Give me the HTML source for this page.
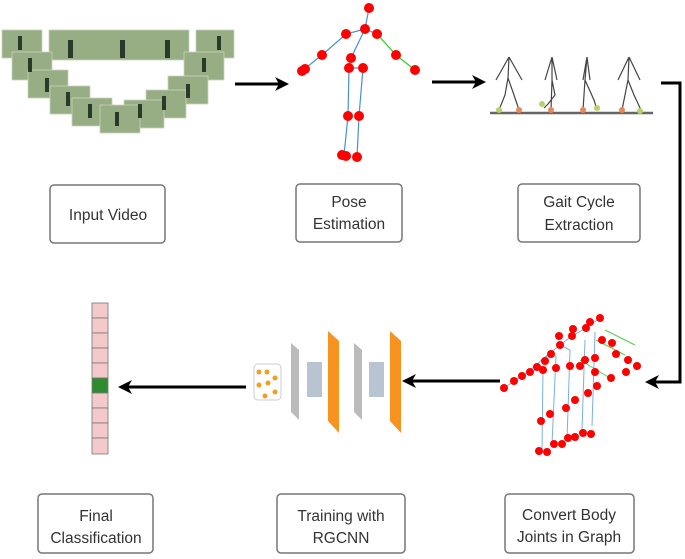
<!DOCTYPE html>
<html><head><meta charset="utf-8"><style>
html,body{margin:0;padding:0;background:#fff;}
svg{display:block;}
text{font-family:"Liberation Sans",Arial,sans-serif;font-size:15.5px;fill:#333;text-anchor:middle;}
</style></head><body>
<svg width="685" height="559" viewBox="0 0 685 559" xmlns="http://www.w3.org/2000/svg">
<defs>
<marker id="ah" markerWidth="14" markerHeight="14" refX="11" refY="7" orient="auto" markerUnits="userSpaceOnUse">
<path d="M0,0 L14,7 L0,14 L4,7 Z" fill="#000"/>
</marker>
</defs>
<g fill="#97ad84" stroke="#c9d3bd" stroke-width="0.8">
<rect x="2" y="30" width="40" height="28"/>
<rect x="49" y="30" width="140" height="30"/>
<rect x="196" y="30" width="38" height="28"/>
<rect x="12" y="52" width="40" height="28"/>
<rect x="184" y="52" width="40" height="28"/>
<rect x="28" y="70" width="40" height="28"/>
<rect x="168" y="76" width="40" height="28"/>
<rect x="50" y="86" width="40" height="28"/>
<rect x="146" y="90" width="40" height="28"/>
<rect x="72" y="98" width="40" height="28"/>
<rect x="124" y="100" width="40" height="28"/>
<rect x="100" y="105" width="40" height="28"/>
</g>
<g fill="#2a3a2a">
<rect x="18" y="36" width="4" height="14"/><rect x="68" y="40" width="5" height="18"/><rect x="120" y="40" width="5" height="18"/><rect x="165" y="40" width="5" height="18"/><rect x="217" y="36" width="4" height="14"/>
<rect x="28" y="58" width="4" height="14"/><rect x="202" y="58" width="4" height="14"/><rect x="45" y="78" width="4" height="14"/><rect x="186" y="84" width="4" height="14"/><rect x="66" y="92" width="4" height="14"/><rect x="162" y="96" width="4" height="14"/><rect x="88" y="104" width="4" height="14"/><rect x="138" y="104" width="4" height="14"/><rect x="115" y="112" width="4" height="14"/>
</g>
<line x1="235" y1="84" x2="286" y2="84" stroke="#000" stroke-width="3" marker-end="url(#ah)"/>
<line x1="432" y1="82" x2="483" y2="82" stroke="#000" stroke-width="3" marker-end="url(#ah)"/>
<polyline points="661,83 680,83 680,382 648,382" fill="none" stroke="#000" stroke-width="3" marker-end="url(#ah)"/>
<line x1="500" y1="381" x2="405" y2="381" stroke="#000" stroke-width="3" marker-end="url(#ah)"/>
<line x1="246" y1="387" x2="121" y2="387" stroke="#000" stroke-width="3" marker-end="url(#ah)"/>
<g stroke="#4a90d0" stroke-width="1.2" fill="none">
<path d="M369,8 L365,29 L346,34 L322,55 L302,71"/>
<path d="M365,29 L377,34"/>
<path d="M365,29 L351,58 L349,68 L348,116 L344,155"/>
<path d="M351,68 L363,68 L359,116 L357,157"/>
</g>
<path d="M377,34 L396,55 L415,70" stroke="#3c3" stroke-width="1.2" fill="none"/>
<g fill="#f00">
<circle cx="369" cy="8" r="5"/><circle cx="365" cy="29" r="5"/><circle cx="346" cy="34" r="5"/><circle cx="377" cy="34" r="5"/><circle cx="322" cy="55" r="5"/><circle cx="396" cy="55" r="5"/><circle cx="302" cy="71" r="5"/><circle cx="305" cy="69" r="5"/><circle cx="415" cy="70" r="5"/><circle cx="351" cy="58" r="5"/><circle cx="349" cy="68" r="5"/><circle cx="363" cy="68" r="5"/><circle cx="348" cy="116" r="5"/><circle cx="359" cy="116" r="5"/><circle cx="342" cy="155" r="5"/><circle cx="346" cy="156" r="5"/><circle cx="357" cy="157" r="5"/>
</g>
<line x1="490" y1="113" x2="653" y2="113" stroke="#666" stroke-width="2.5"/>
<g stroke="#444" stroke-width="1.2" fill="none">
<path d="M509,57 L496,80 M509,57 L522,80 M509,57 L508,78 L505,95 L499,110 M508,78 L514,95 L519,110"/>
<path d="M552,57 L545,80 M552,57 L557,80 M552,57 L552,80 L555,95 L548,104 L544,108 M552,80 L551,110"/>
<path d="M587,57 L583,80 M587,57 L590,80 M587,57 L585,80 L583,110 M585,80 L594,100 L597,110"/>
<path d="M629,57 L618,80 M629,57 L640,80 M629,57 L628,80 L622,110 M628,80 L634,95 L641,110"/>
</g>
<g fill="#e8875a"><circle cx="519" cy="110" r="3"/><circle cx="551" cy="110" r="3"/><circle cx="583" cy="110" r="3"/><circle cx="622" cy="110" r="3"/></g>
<g fill="#b5d36a"><circle cx="499" cy="110" r="3"/><circle cx="542" cy="104" r="3"/><circle cx="597" cy="108" r="3"/><circle cx="640" cy="111" r="3"/></g>
<g fill="#fff" stroke="#777" stroke-width="1.5">
<rect x="50" y="185" width="115" height="58" rx="4"/>
<rect x="296" y="184" width="106" height="58" rx="4"/>
<rect x="518" y="184" width="122" height="58" rx="4"/>
<rect x="38" y="494" width="115" height="59" rx="4"/>
<rect x="277" y="494" width="128" height="59" rx="4"/>
<rect x="505" y="494" width="129" height="59" rx="4"/>
</g>
<text x="108" y="220">Input Video</text>
<text x="349" y="207">Pose</text><text x="349" y="229">Estimation</text>
<text x="579" y="207">Gait Cycle</text><text x="579" y="230">Extraction</text>
<text x="96" y="521">Final</text><text x="96" y="543">Classification</text>
<text x="341" y="521">Training with</text><text x="341" y="543">RGCNN</text>
<text x="569" y="520">Convert Body</text><text x="569" y="542">Joints in Graph</text>
<g fill="#f4c9c9" stroke="#777" stroke-width="0.8">
<rect x="92" y="303" width="16" height="15"/><rect x="92" y="318" width="16" height="15"/><rect x="92" y="333" width="16" height="15"/><rect x="92" y="348" width="16" height="15"/><rect x="92" y="363" width="16" height="15"/>
<rect x="92" y="378" width="16" height="15" fill="#2e8b2e"/>
<rect x="92" y="393" width="16" height="15"/><rect x="92" y="408" width="16" height="15"/><rect x="92" y="423" width="16" height="15"/><rect x="92" y="438" width="16" height="16"/>
</g>
<rect x="254" y="364" width="27" height="36" rx="4" fill="#fff" stroke="#ccc"/>
<g fill="#f0a020"><circle cx="259" cy="372" r="2.5"/><circle cx="267" cy="372" r="2.5"/><circle cx="275" cy="378" r="2.5"/><circle cx="259" cy="385" r="2.5"/><circle cx="268" cy="383" r="2.5"/><circle cx="275" cy="392" r="2.5"/><circle cx="265" cy="396" r="2.5"/></g>
<polygon points="291,343 299,350 299,420 291,412" fill="#bbb"/>
<rect x="307" y="362" width="15" height="35" fill="#b8c4d2"/>
<polygon points="328,331 339,341 339,433 328,421" fill="#f7931e"/>
<polygon points="354,343 362,350 362,420 354,412" fill="#bbb"/>
<rect x="369" y="362" width="15" height="35" fill="#b8c4d2"/>
<polygon points="390,331 401,341 401,433 390,421" fill="#f7931e"/>
<g stroke="#7ab0e0" stroke-width="1" fill="none">
<path d="M504,388 L528,372 L545,357 L560,345 L572,336 L586,328 L600,318"/>
<path d="M543,368 L542,452 M556,356 L552,444 M570,350 L567,440 M585,340 L582,430 M595,332 L592,426"/>
<path d="M528,372 L543,368 M545,357 L556,356 M560,345 L570,350"/>
</g>
<g stroke="#5c5" stroke-width="1" fill="none"><path d="M596,340 L625,355 M580,360 L610,378 M605,330 L635,345"/></g>
<g fill="#f00">
<circle cx="504" cy="388" r="4"/><circle cx="514" cy="381" r="4"/><circle cx="522" cy="376" r="4"/><circle cx="530" cy="372" r="4"/><circle cx="537" cy="367" r="4"/><circle cx="545" cy="361" r="4"/><circle cx="551" cy="354" r="4"/><circle cx="560" cy="345" r="4"/><circle cx="572" cy="336" r="4"/><circle cx="586" cy="328" r="4"/><circle cx="600" cy="318" r="4"/>
<circle cx="559" cy="336" r="4"/><circle cx="573" cy="329" r="4"/><circle cx="590" cy="322" r="4"/><circle cx="602" cy="340" r="4"/><circle cx="612" cy="343" r="4"/><circle cx="616" cy="354" r="4"/><circle cx="628" cy="360" r="4"/><circle cx="637" cy="366" r="4"/><circle cx="626" cy="372" r="4"/><circle cx="611" cy="378" r="4"/><circle cx="595" cy="372" r="4"/><circle cx="580" cy="366" r="4"/>
<circle cx="543" cy="370" r="4"/><circle cx="556" cy="368" r="4"/><circle cx="570" cy="366" r="4"/><circle cx="585" cy="360" r="4"/><circle cx="595" cy="358" r="4"/>
<circle cx="541" cy="421" r="4"/><circle cx="550" cy="414" r="4"/><circle cx="566" cy="408" r="4"/><circle cx="575" cy="400" r="4"/><circle cx="588" cy="393" r="4"/><circle cx="597" cy="386" r="4"/>
<circle cx="539" cy="451" r="4"/><circle cx="547" cy="452" r="4"/><circle cx="554" cy="444" r="4"/><circle cx="562" cy="444" r="4"/><circle cx="568" cy="438" r="4"/><circle cx="575" cy="437" r="4"/><circle cx="583" cy="433" r="4"/><circle cx="591" cy="434" r="4"/>
</g>
</svg>
</body></html>
